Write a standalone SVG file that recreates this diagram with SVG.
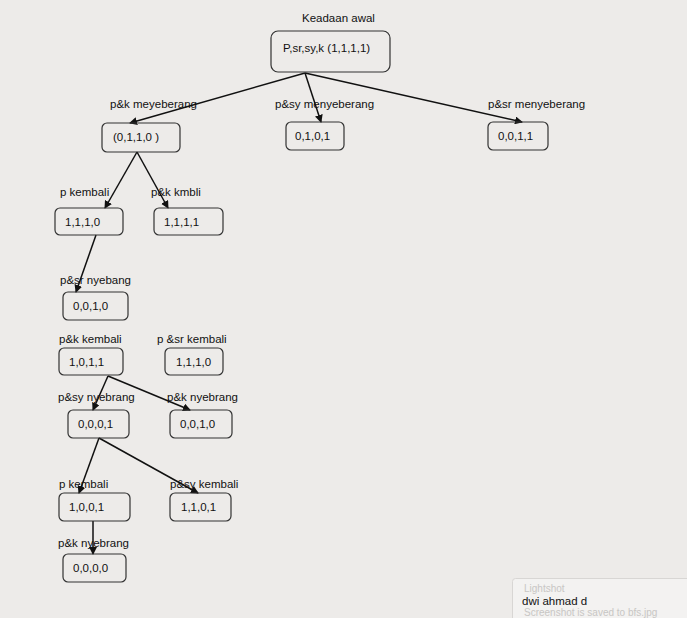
<svg xmlns="http://www.w3.org/2000/svg" width="687" height="618" viewBox="0 0 687 618">
<style>
.n rect{fill:none;stroke:#333;stroke-width:1.2}
text{font-family:"Liberation Sans",Arial,sans-serif;font-size:11.5px;fill:#111}
text.f{fill:#c8c6c4;font-size:10px}
.c line{stroke:#111;stroke-width:1.5;marker-end:url(#a)}
</style>
<defs><marker id="a" markerWidth="8" markerHeight="8" refX="7" refY="4" orient="auto" markerUnits="userSpaceOnUse"><path d="M0,0L8,4L0,8z" fill="#111"/></marker></defs>
<rect width="687" height="618" fill="#edebe9"/>
<g class="c">
<line x1="305" y1="73" x2="130" y2="123"/>
<line x1="305" y1="73" x2="321" y2="122"/>
<line x1="305" y1="73" x2="522" y2="122"/>
<line x1="137" y1="152" x2="105" y2="208"/>
<line x1="137" y1="152" x2="168" y2="208"/>
<line x1="96" y1="235" x2="76" y2="292"/>
<line x1="108" y1="376" x2="93" y2="410"/>
<line x1="108" y1="376" x2="190" y2="410"/>
<line x1="99" y1="438" x2="79" y2="493"/>
<line x1="99" y1="438" x2="198" y2="493"/>
<line x1="93" y1="521" x2="93" y2="554"/>
</g>
<g id="root" class="n"><rect x="271" y="31" width="119" height="41" rx="7"/><text x="283" y="52">P,sr,sy,k (1,1,1,1)</text><text x="302" y="22">Keadaan awal</text></g>
<g id="n1" class="n"><rect x="102" y="123" width="78" height="29" rx="5"/><text x="113" y="141">(0,1,1,0 )</text><text x="110" y="108">p&amp;k meyeberang</text></g>
<g id="n2" class="n"><rect x="286" y="122" width="58" height="28" rx="5"/><text x="295" y="140">0,1,0,1</text><text x="275" y="108">p&amp;sy menyeberang</text></g>
<g id="n3" class="n"><rect x="488" y="122" width="60" height="28" rx="5"/><text x="498" y="140">0,0,1,1</text><text x="488" y="108">p&amp;sr menyeberang</text></g>
<g id="n4" class="n"><rect x="55" y="208" width="68" height="27" rx="5"/><text x="65" y="226">1,1,1,0</text><text x="60" y="196">p kembali</text></g>
<g id="n5" class="n"><rect x="154" y="208" width="69" height="27" rx="5"/><text x="164" y="226">1,1,1,1</text><text x="151" y="196">p&amp;k kmbli</text></g>
<g id="n6" class="n"><rect x="63" y="292" width="65" height="28" rx="5"/><text x="73" y="310">0,0,1,0</text><text x="60" y="284">p&amp;sr nyebang</text></g>
<g id="n7" class="n"><rect x="59" y="348" width="64" height="27" rx="5"/><text x="69" y="366">1,0,1,1</text><text x="59" y="343">p&amp;k kembali</text></g>
<g id="n8" class="n"><rect x="165" y="348" width="58" height="27" rx="5"/><text x="176" y="366">1,1,1,0</text><text x="157" y="343">p &amp;sr kembali</text></g>
<g id="n9" class="n"><rect x="68" y="410" width="61" height="28" rx="5"/><text x="78" y="428">0,0,0,1</text><text x="58" y="401">p&amp;sy nyebrang</text></g>
<g id="n10" class="n"><rect x="170" y="410" width="62" height="28" rx="5"/><text x="180" y="428">0,0,1,0</text><text x="167" y="401">p&amp;k nyebrang</text></g>
<g id="n11" class="n"><rect x="59" y="493" width="71" height="28" rx="5"/><text x="69" y="511">1,0,0,1</text><text x="59" y="488">p kembali</text></g>
<g id="n12" class="n"><rect x="170" y="493" width="61" height="28" rx="5"/><text x="181" y="511">1,1,0,1</text><text x="170" y="488">p&amp;sy kembali</text></g>
<g id="n13" class="n"><rect x="63" y="554" width="63" height="28" rx="5"/><text x="73" y="572">0,0,0,0</text><text x="58" y="547">p&amp;k nyebrang</text></g>
<g id="notif"><rect x="512.5" y="578.5" width="190" height="50" rx="3" fill="#f3f2f1" stroke="#d8d6d4"/><text class="f" x="524" y="592">Lightshot</text><text x="522" y="605">dwi ahmad d</text><text class="f" x="524" y="616">Screenshot is saved to bfs.jpg</text></g>
</svg>
